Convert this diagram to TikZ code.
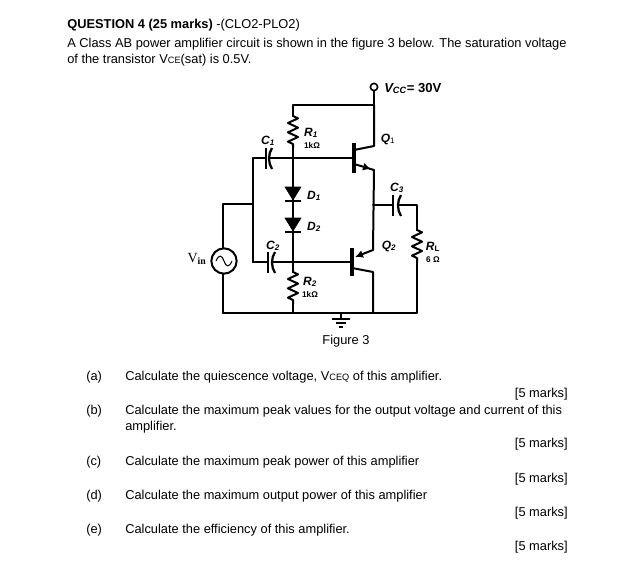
\documentclass[tikz,border=0pt]{standalone}
\usepackage{fontspec}
\setmainfont{Liberation Sans}
\newfontfamily\vinfont{Liberation Serif}
\usetikzlibrary{decorations.pathmorphing,arrows.meta}
\tikzset{
  wire/.style={line width=1.5pt,line cap=round,line join=round},
  res/.style={wire,decorate,decoration={zigzag,segment length=7pt,amplitude=3.8pt}},
  txt/.style={anchor=base west,inner sep=0pt,font=\fontsize{9.63}{11}\selectfont},
  mrk/.style={anchor=base east,inner sep=0pt,font=\fontsize{9.63}{11}\selectfont},
  lbl/.style={inner sep=0pt,font=\fontsize{9}{11}\selectfont\bfseries\itshape},
  val/.style={inner sep=0pt,font=\fontsize{6.2}{7}\selectfont\bfseries},
  plate/.style={line width=1.7pt},
  bar/.style={line width=3.7pt},
  dio/.style={fill=black,draw=black,line join=miter}
}
\newcommand{\sm}[1]{{\fontsize{6.9}{8}\selectfont #1}}
\begin{document}
\begin{tikzpicture}[x=0.75pt,y=-0.75pt]
  \useasboundingbox (0,0) rectangle (640,564);

  % question text
  \node[txt] (title) at (67,28) {\textbf{QUESTION 4 (25 marks)} -(CLO2-PLO2)};
  \node[txt] (introa) at (67,47) {A Class AB power amplifier circuit is shown in the figure 3 below. The saturation voltage};
  \node[txt] (introb) at (67,63) {of the transistor V\sm{CE}(sat) is 0.5V.};

  % wire junctions
  \coordinate (vcc) at (374,90);
  \coordinate (top) at (374,105);
  \coordinate (topr) at (293,105);
  \coordinate (nbone) at (293,158);
  \coordinate (nbtwo) at (293,262);
  \coordinate (botr) at (293,313);
  \coordinate (lefta) at (253,158);
  \coordinate (leftb) at (253,262);
  \coordinate (leftm) at (253,204);
  \coordinate (vinl) at (223,204);
  \coordinate (vinb) at (223,313);
  \coordinate (qonec) at (374,146);
  \coordinate (qonee) at (374,170);
  \coordinate (qtwoe) at (373,250);
  \coordinate (qtwoc) at (373,272);
  \coordinate (qtwob) at (373,313);
  \coordinate (out) at (373,205);
  \coordinate (outr) at (417,205);
  \coordinate (botrr) at (417,313);
  \coordinate (gnd) at (341,313);

  % supply
  \node[circle,draw,line width=1.2pt,inner sep=0pt,minimum size=5.5pt] (vccdot) at (374,87) {};
  \draw[wire] (vccdot) -- (top) -- (topr) -- (293,116);
  \draw[res] (293,116) -- (293,148);
  \draw[wire] (293,148) -- (nbone);
  \node[inner sep=0pt,anchor=base west,font=\fontsize{9.8}{11}\selectfont\bfseries] (vcclbl) at (384,92) {\textit{V\textsubscript{CC}}= 30V};

  % Q1
  \coordinate (bara) at (354,143);
  \coordinate (barb) at (354,173);
  \draw[bar] (bara) -- (barb);
  \draw[wire] (354,150) -- (qonec) -- (top);
  \draw[wire,-{Latex[length=6pt,width=6pt]}] (354,164) -- (371,169);
  \draw[wire] (369,168.5) -- (qonee) -- (qtwoe);

  % base line and C1
  \draw[wire] (leftb) -- (lefta) -- (266,158);
  \draw[plate] (266,148) -- (266,169);
  \draw[plate] (272,148) .. controls (268,154) and (268,163) .. (272,169);
  \draw[wire] (269,158) -- (nbone) -- (352,158);

  % diodes
  \draw[wire] (nbone) -- (nbtwo);
  \draw[dio] (285,187) -- (301,187) -- (293,200) -- cycle;
  \draw[plate] (285,201) -- (301,201);
  \draw[dio] (285,218) -- (301,218) -- (293,231) -- cycle;
  \draw[plate] (285,232) -- (301,232);

  % C2 and R2
  \draw[wire] (leftb) -- (268,262);
  \draw[plate] (268,252) -- (268,273);
  \draw[plate] (275,252) .. controls (271,258) and (271,267) .. (275,273);
  \draw[wire] (272,262) -- (nbtwo) -- (350,262);
  \draw[res] (293,272) -- (293,304);
  \draw[wire] (nbtwo) -- (293,272) (293,304) -- (botr);

  % Q2
  \draw[bar] (352,248) -- (352,276);
  \draw[wire] (352,268) -- (qtwoc) -- (qtwob);
  \draw[wire,-{Latex[length=6pt,width=6pt]}] (qtwoe) -- (355,257);

  % C3 and load
  \draw[wire] (out) -- (393,205);
  \draw[plate] (393,195) -- (393,216);
  \draw[plate] (401,195) .. controls (397,201) and (397,210) .. (401,216);
  \draw[wire] (398,205) -- (outr) -- (417,230);
  \draw[res] (417,230) -- (417,262);
  \draw[wire] (417,262) -- (botrr) -- (vinb);

  % source
  \node[circle,draw,line width=1.5pt,minimum size=19pt,inner sep=0pt] (vin) at (224,261) {};
  \draw[line width=0.8pt] (216,261) .. controls (219,254) and (222,255) .. (224,261) .. controls (226,267) and (229,268) .. (232,261);
  \draw[wire] (leftm) -- (vinl) -- (223,248);
  \draw[wire] (223,274) -- (vinb);

  % ground
  \draw[wire] (gnd) -- (341,319);
  \draw[plate] (332,319) -- (350,319);
  \draw[plate] (336,323) -- (346,323);
  \draw[plate] (339,327) -- (343,327);

  % component labels
  \node[lbl] (cone) at (268,141) {C\textsubscript{1}};
  \node[lbl] (rone) at (311,133) {R\textsubscript{1}};
  \node[val] (ronev) at (312,146) {1kΩ};
  \node[lbl] (done) at (314,196) {D\textsubscript{1}};
  \node[lbl] (dtwo) at (314,227) {D\textsubscript{2}};
  \node[lbl] (ctwo) at (273,246) {C\textsubscript{2}};
  \node[lbl] (rtwo) at (310,282) {R\textsubscript{2}};
  \node[val] (rtwov) at (310,295) {1kΩ};
  \node[lbl] (qone) at (388,139) {Q\textsubscript{\normalfont 1}};
  \node[lbl] (qtwo) at (389,246) {Q\textsubscript{2}};
  \node[lbl] (cthree) at (397,188) {C\textsubscript{3}};
  \node[lbl] (rl) at (433,247) {R\textsubscript{\upshape L}};
  \node[val] (rlv) at (433,260) {6 Ω};
  \node[inner sep=0pt,font=\fontsize{10.5}{12}\selectfont\vinfont] (vinlbl) at (197,259) {V\textsubscript{\textbf{in}}};
  \node[inner sep=0pt,font=\fontsize{9.63}{11}\selectfont] (figlbl) at (346,341) {Figure 3};

  % parts
  \node[txt] (pa) at (86,380) {(a)};
  \node[txt] (qa) at (125,380) {Calculate the quiescence voltage, V\sm{CEQ} of this amplifier.};
  \node[mrk] (ma) at (568,397) {[5 marks]};
  \node[txt] (pb) at (86,414) {(b)};
  \node[txt] (qb) at (125,414) {Calculate the maximum peak values for the output voltage and current of this};
  \node[txt] (qbb) at (125,430) {amplifier.};
  \node[mrk] (mb) at (568,447) {[5 marks]};
  \node[txt] (pc) at (86,465) {(c)};
  \node[txt] (qc) at (125,465) {Calculate the maximum peak power of this amplifier};
  \node[mrk] (mc) at (568,482) {[5 marks]};
  \node[txt] (pd) at (86,499) {(d)};
  \node[txt] (qd) at (125,499) {Calculate the maximum output power of this amplifier};
  \node[mrk] (md) at (568,516) {[5 marks]};
  \node[txt] (pe) at (86,533) {(e)};
  \node[txt] (qe) at (125,533) {Calculate the efficiency of this amplifier.};
  \node[mrk] (me) at (568,550) {[5 marks]};
\end{tikzpicture}
\end{document}
